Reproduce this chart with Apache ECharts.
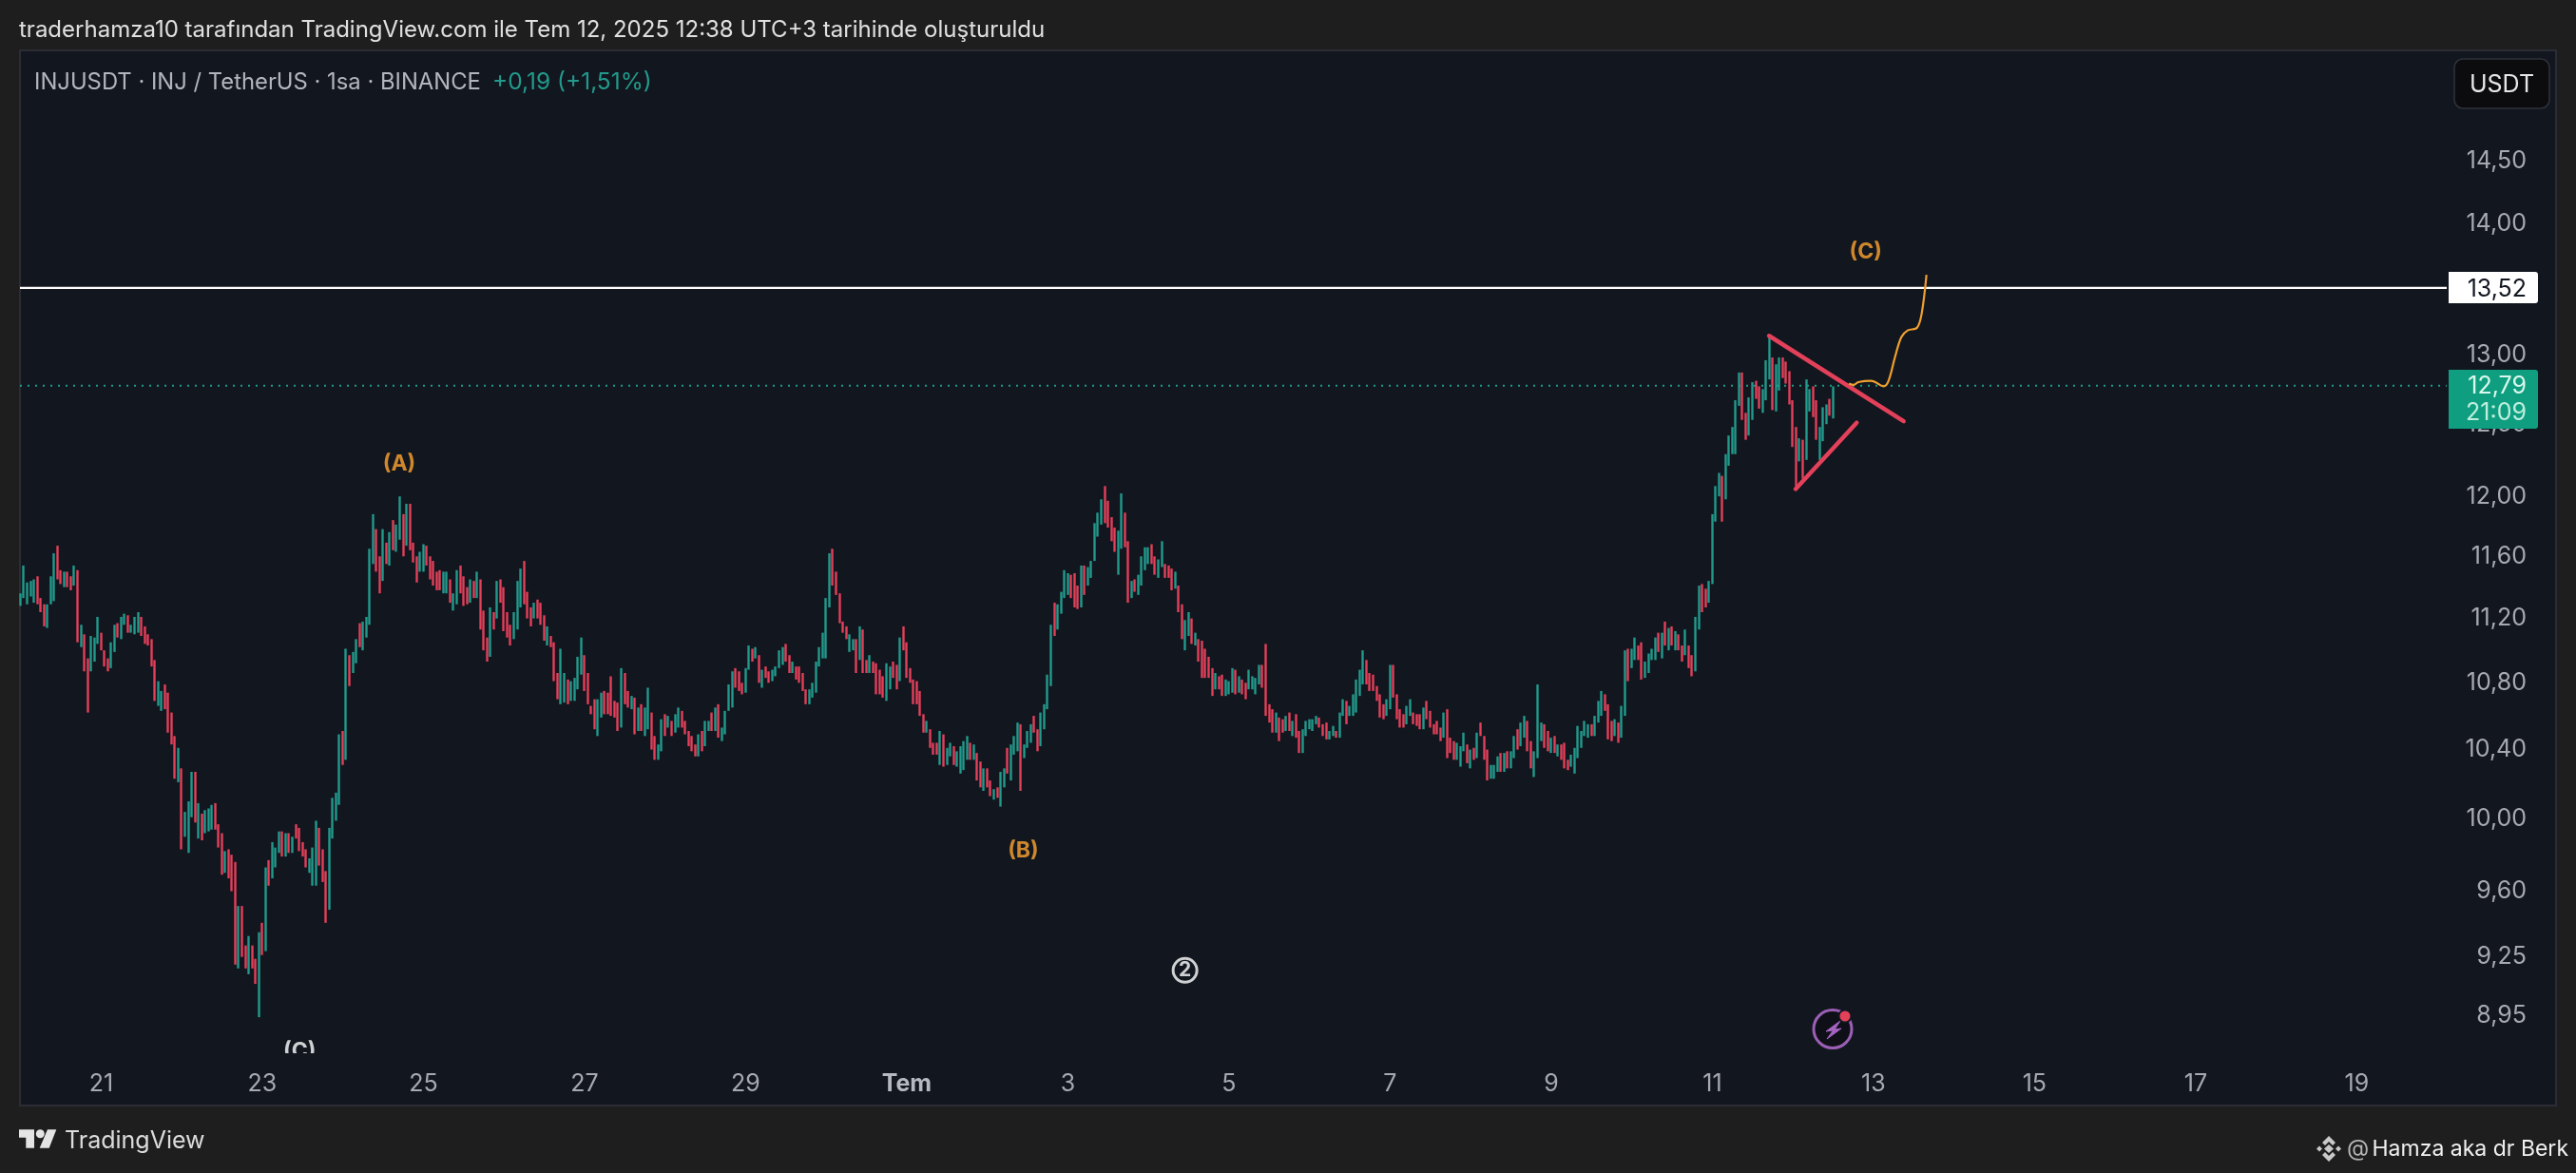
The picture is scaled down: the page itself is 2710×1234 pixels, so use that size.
<!DOCTYPE html>
<html><head><meta charset="utf-8">
<style>html,body{margin:0;padding:0;background:#1e1e1e}#c{width:2710px;height:1234px}</style>
<script src="https://cdn.jsdelivr.net/npm/echarts@6/dist/echarts.min.js"></script>
</head><body><div id="c"></div>
<script>
// hourly bars, starting 20 Jun 00:00: [first price, last price]
const bars = [
[11.28,11.36],[11.33,11.54],[11.29,11.43],[11.34,11.44],[11.30,11.45],[11.47,11.29],[11.33,11.24],[11.29,11.15],[11.14,11.29],[11.29,11.47],
[11.31,11.62],[11.67,11.45],[11.51,11.42],[11.40,11.50],[11.50,11.40],[11.47,11.38],[11.41,11.54],[11.51,11.05],[11.02,11.16],[11.10,10.87],
[10.95,10.62],[10.87,11.09],[10.93,11.08],[11.04,11.21],[11.11,11.00],[11.00,10.90],[10.95,10.87],[10.89,11.05],[10.99,11.16],[11.17,11.08],
[11.07,11.21],[11.16,11.23],[11.22,11.11],[11.11,11.16],[11.10,11.21],[11.11,11.24],[11.21,11.09],[11.15,11.04],[11.10,11.03],[11.07,10.90],
[10.94,10.69],[10.66,10.81],[10.63,10.75],[10.79,10.64],[10.74,10.50],[10.62,10.43],[10.48,10.23],[10.21,10.41],[10.29,9.83],[9.90,10.04],
[9.81,10.10],[10.01,10.27],[10.27,9.98],[9.89,10.09],[10.03,9.88],[9.92,10.05],[9.93,10.06],[9.94,10.08],[10.09,9.94],[9.97,9.84],
[9.92,9.69],[9.70,9.82],[9.83,9.67],[9.80,9.60],[9.76,9.21],[9.19,9.52],[9.52,9.25],[9.31,9.19],[9.16,9.36],[9.31,9.19],
[9.24,9.11],[8.94,9.38],[9.43,9.26],[9.28,9.73],[9.77,9.63],[9.67,9.87],[9.73,9.84],[9.81,9.93],[9.93,9.79],[9.79,9.92],
[9.92,9.81],[9.81,9.90],[9.97,9.89],[9.95,9.82],[9.87,9.79],[9.83,9.73],[9.70,9.78],[9.63,9.84],[9.63,9.99],[9.95,9.74],
[9.83,9.65],[9.71,9.43],[9.50,9.95],[9.89,10.12],[9.99,10.15],[10.08,10.49],[10.51,10.31],[10.34,11.01],[10.97,10.78],[10.86,10.99],
[10.92,11.07],[11.17,11.02],[11.00,11.18],[11.08,11.21],[11.16,11.65],[11.55,11.88],[11.78,11.50],[11.60,11.36],[11.44,11.78],[11.69,11.55],
[11.54,11.76],[11.84,11.64],[11.63,11.81],[11.71,12.00],[11.88,11.60],[11.67,11.95],[11.95,11.64],[11.69,11.56],[11.60,11.43],[11.50,11.63],
[11.50,11.68],[11.67,11.54],[11.60,11.45],[11.57,11.41],[11.50,11.38],[11.51,11.38],[11.36,11.50],[11.36,11.50],[11.45,11.30],[11.25,11.36],
[11.29,11.51],[11.54,11.36],[11.47,11.28],[11.40,11.29],[11.30,11.45],[11.44,11.33],
[11.33,11.50],[11.45,11.13],[11.25,11.00],[11.08,10.93],[10.96,11.27],[11.24,11.13],[11.20,11.44],[11.45,11.30],[11.40,11.12],[11.24,11.08],
[11.16,11.03],[11.07,11.24],[11.13,11.44],[11.27,11.52],[11.57,11.29],[11.37,11.20],[11.27,11.15],[11.20,11.30],[11.32,11.20],[11.30,11.16],
[11.22,11.06],[11.03,11.15],[11.09,11.02],[11.05,10.81],[10.86,10.70],[10.67,11.01],[10.68,10.86],[10.82,10.67],[10.69,10.81],[10.69,10.83],
[10.76,10.96],[10.85,11.08],[10.97,10.75],[10.86,10.67],[10.66,10.61],[10.70,10.52],[10.48,10.70],[10.59,10.74],[10.75,10.61],[10.74,10.61],
[10.84,10.60],[10.69,10.59],[10.68,10.51],[10.53,10.89],[10.86,10.67],[10.75,10.65],[10.64,10.72],[10.71,10.49],[10.51,10.65],[10.67,10.51],
[10.48,10.65],[10.52,10.77],[10.62,10.40],[10.48,10.34],[10.34,10.43],[10.39,10.58],[10.61,10.48],[10.53,10.60],[10.57,10.48],[10.50,10.61],
[10.53,10.65],[10.63,10.53],[10.57,10.49],[10.51,10.42],[10.48,10.39],[10.43,10.36],[10.36,10.49],[10.51,10.39],[10.42,10.57],[10.51,10.57],
[10.62,10.51],[10.51,10.65],[10.67,10.47],[10.45,10.53],[10.49,10.63],[10.63,10.79],[10.65,10.87],[10.89,10.77],[10.87,10.75],[10.80,10.73],
[10.74,10.89],[10.88,11.03],[11.01,10.93],[10.95,11.02],[10.97,10.80],[10.77,10.88],[10.90,10.83],[10.87,10.80],[10.81,10.88],[10.84,10.90],
[10.89,11.00],[10.91,11.02],[11.04,10.93],[10.97,10.86],[10.86,10.93],[10.90,10.82],[10.90,10.80],[10.86,10.75],[10.76,10.67],[10.67,10.76],
[10.71,10.80],[10.74,10.93],[10.90,11.02],[10.95,11.11],[10.95,11.33],[11.27,11.62],[11.65,11.41],[11.50,11.35],[11.36,11.17],[11.18,11.11],
[11.15,11.07],[10.99,11.10],[11.00,11.07],[11.07,10.86],[10.94,11.15],[11.13,10.86],[10.94,10.86],[10.86,10.97],[10.93,10.86],[10.92,10.73],
[10.88,10.73],[10.84,10.71],[10.69,10.92],[10.76,10.90],[10.93,10.83],[10.91,10.76],[10.81,11.08],[11.15,11.00],[11.05,10.83],[10.89,10.80],
[10.82,10.67],[10.81,10.67],[10.75,10.60],[10.61,10.50],[10.50,10.57],[10.52,10.41],[10.44,10.37],[10.44,10.37],[10.31,10.51],[10.49,10.30],
[10.31,10.41],[10.36,10.44],
[10.42,10.31],[10.30,10.39],[10.26,10.42],[10.28,10.45],[10.34,10.48],[10.44,10.34],[10.34,10.43],[10.38,10.22],[10.33,10.18],[10.16,10.29],
[10.29,10.18],[10.22,10.13],[10.11,10.17],[10.18,10.12],[10.07,10.27],[10.18,10.29],[10.41,10.26],[10.22,10.43],[10.37,10.48],[10.39,10.56],
[10.55,10.16],[10.35,10.43],[10.41,10.51],[10.44,10.55],[10.60,10.50],[10.52,10.39],[10.42,10.62],[10.52,10.67],[10.64,10.85],[10.78,11.16],
[11.30,11.09],[11.13,11.29],[11.23,11.37],[11.33,11.51],[11.35,11.49],[11.48,11.33],[11.49,11.27],[11.41,11.26],[11.27,11.54],[11.54,11.35],
[11.41,11.53],[11.46,11.57],[11.57,11.82],[11.73,11.89],[11.81,11.98],[12.07,11.82],[11.97,11.79],[11.86,11.70],[11.79,11.63],[11.48,11.77],
[11.65,12.02],[11.89,11.66],[11.70,11.30],[11.33,11.44],[11.45,11.37],[11.35,11.48],[11.41,11.60],[11.51,11.66],[11.55,11.66],[11.68,11.55],
[11.60,11.48],[11.46,11.58],[11.53,11.70],[11.55,11.46],[11.54,11.46],[11.52,11.38],[11.39,11.50],[11.41,11.24],[11.29,11.07],[11.00,11.19],
[11.09,11.24],[11.20,11.04],[11.03,11.11],[11.07,10.93],[11.06,10.83],[11.01,10.83],[10.96,10.83],[10.89,10.72],[10.76,10.86],[10.84,10.76],
[10.85,10.72],[10.72,10.82],[10.73,10.81],[10.74,10.89],[10.88,10.73],[10.74,10.84],[10.82,10.73],[10.80,10.70],[10.76,10.88],[10.76,10.84],
[10.73,10.83],[10.79,10.91],[10.91,10.77],[11.04,10.60],[10.67,10.56],[10.64,10.50],[10.50,10.62],[10.59,10.45],[10.58,10.50],[10.51,10.60],
[10.62,10.51],[10.48,10.57],[10.61,10.47],[10.51,10.38],[10.38,10.52],[10.48,10.57],[10.52,10.58],[10.51,10.58],[10.55,10.60],[10.59,10.53],
[10.55,10.48],[10.56,10.46],[10.46,10.51],[10.48,10.54],[10.51,10.47],[10.47,10.62],[10.60,10.70],[10.69,10.55],[10.60,10.66],[10.60,10.73],
[10.62,10.82],[10.72,10.88],[10.79,11.00],[10.94,10.79],[10.86,10.75],[10.85,10.75],[10.78,10.69],[10.73,10.59],[10.67,10.58],[10.60,10.70],
[10.64,10.91],[10.91,10.71],[10.73,10.58],[10.64,10.53],[10.61,10.53],[10.55,10.66],[10.60,10.70],[10.62,10.55],[10.61,10.54],[10.61,10.52],
[10.52,10.65],
[10.69,10.58],[10.63,10.53],[10.55,10.49],[10.57,10.49],[10.53,10.45],[10.47,10.62],[10.64,10.35],[10.47,10.38],[10.45,10.34],[10.34,10.44],
[10.30,10.42],[10.39,10.50],[10.43,10.32],[10.29,10.40],[10.41,10.34],[10.35,10.50],[10.56,10.48],[10.48,10.34],[10.40,10.22],[10.23,10.31],
[10.23,10.31],[10.27,10.36],[10.38,10.27],[10.27,10.38],[10.39,10.29],[10.29,10.39],[10.35,10.48],[10.52,10.40],[10.42,10.56],[10.47,10.60],
[10.57,10.39],[10.45,10.29],[10.24,10.39],[10.35,10.79],[10.45,10.56],[10.55,10.41],[10.51,10.39],[10.38,10.47],[10.48,10.38],[10.36,10.43],
[10.43,10.34],[10.44,10.29],[10.34,10.28],[10.30,10.37],[10.26,10.41],[10.35,10.54],[10.41,10.51],[10.48,10.57],[10.47,10.55],[10.55,10.48],
[10.48,10.60],[10.56,10.69],[10.60,10.75],[10.73,10.63],[10.67,10.46],[10.57,10.45],[10.48,10.58],[10.56,10.44],[10.47,10.66],[10.60,11.00],
[11.01,10.81],[10.89,11.01],[10.94,11.08],[11.03,10.94],[11.05,10.82],[10.83,10.93],[10.86,10.98],[10.94,11.01],[10.94,11.08],[11.11,10.99],
[10.95,11.11],[11.18,11.03],[11.00,11.14],[11.15,11.03],[11.00,11.12],[11.10,11.00],[11.03,10.93],[10.97,11.13],[11.03,10.89],[10.97,10.84],
[10.87,11.21],
[11.13,11.41],[11.42,11.24],[11.39,11.27],[11.30,11.44],[11.42,11.88],[11.83,12.07],[12.00,12.16],[12.14,11.83],[11.98,12.29],[12.21,12.42],
[12.29,12.48],[12.29,12.67],[12.63,12.87],[12.87,12.53],[12.58,12.39],[12.42,12.69],[12.53,12.80],[12.81,12.68],[12.77,12.61],[12.58,12.75],
[12.67,12.96],[12.82,13.14],[12.98,12.60],[12.59,12.93],[12.74,12.98],[12.98,12.83],[12.95,12.79],[12.88,12.64],[12.67,12.34],[12.48,12.07],
[12.24,12.40],[12.39,12.12],[12.25,12.82],[12.59,12.75],[12.77,12.55],[12.67,12.39],[12.25,12.48],[12.38,12.62],[12.50,12.64],[12.68,12.56],
[12.54,12.77]
];
const priceTicks = [14.5,14,13,12.5,12,11.6,11.2,10.8,10.4,10,9.6,9.25,8.95];
const priceTickLabels = ['14,50','14,00','13,00','12,50','12,00','11,60','11,20','10,80','10,40','10,00','9,60','9,25','8,95'];
const dayTicks = [24,72,120,168,216,264,312,360,408,456,504,552,600,648,696];
const dayTickLabels = ['21','23','25','27','29','Tem','3','5','7','9','11','13','15','17','19'];
const levelLine = 13.5, levelLabel = '13,52';
const lastPrice = 12.775, lastLabel = '12,79', countdown = '21:09';
const waveLabels = [['(A)',112.8,12.22],['(B)',298.7,9.82],['(C)',549.7,13.78]];
const waveLabelLow = [['(C)',83.1,8.77]];
const circledMark = [['2',346.9,9.18]];
const wedgeUpper = [[520.9,13.14],[561,12.52]];
const wedgeLower = [[528.8,12.05],[547,12.51]];
const projection = [[544.7,12.79],[546.1,12.78],[547.5,12.80],[551.3,12.81],[555.1,12.77],[556.5,12.81],[558.4,12.98],[560.3,13.13],[562.2,13.18],[565,13.20],[566.4,13.31],[567.8,13.60]];

const xMin=-0.2, xMax=722.8, yMin=8.76, yMax=15.44;
const UP='#229a8b', DOWN='#e3405a', FONT='Inter, "Noto Sans", sans-serif';
const candle = bars.map((b,i)=>[i,b[0],b[1],Math.min(b[0],b[1]),Math.max(b[0],b[1])]);
const fullLine = v=>[[xMin,v],[xMax,v]];
const hidden={color:'rgba(0,0,0,0)'};
const txt=(x,y,text,size,fill,extra)=>({type:'text',z:20,x,y,style:Object.assign({text,fontSize:size,fontFamily:FONT,fill,textAlign:'left',textVerticalAlign:'middle'},extra||{})});
const chart = echarts.init(document.getElementById('c'),null,{renderer:'canvas'});
chart.setOption({
  animation:false, backgroundColor:'#1e1e1e',
  grid:{left:21,top:53,width:2553,height:1055,containLabel:false},
  xAxis:{type:'value',min:xMin,max:xMax,z:10,splitLine:{show:false},axisLine:{show:false},axisTick:{show:false},
    axisLabel:{customValues:dayTicks,margin:20,fontFamily:FONT,fontSize:25,color:'#a6a9b1',
      formatter:v=>{const l=dayTickLabels[dayTicks.indexOf(v)];return l==='Tem'?'{b|Tem}':l;},
      rich:{b:{fontWeight:'bold',fontSize:25,color:'#b6b9c1',fontFamily:FONT}}}},
  yAxis:{type:'log',min:yMin,max:yMax,position:'right',z:10,splitLine:{show:false},axisLine:{show:false},axisTick:{show:false},
    axisLabel:{customValues:priceTicks,margin:84,align:'right',padding:[10,0,0,0],fontFamily:FONT,fontSize:25,color:'#a6a9b1',
      formatter:v=>{let k=0,d=9;priceTicks.forEach((t,i)=>{if(Math.abs(t-v)<d){d=Math.abs(t-v);k=i;}});return priceTickLabels[k];}}},
  series:[
    {type:'line',data:fullLine(levelLine),symbol:'none',silent:true,z:3,lineStyle:{color:'#ffffff',width:2.2}},
    {type:'line',data:fullLine(lastPrice),symbol:'none',silent:true,z:1,lineStyle:{color:'#1f9c86',width:2,type:[2,6]}},
    {type:'candlestick',data:candle,encode:{x:0,y:[1,2,3,4]},barWidth:1,z:2,
      itemStyle:{color:UP,color0:DOWN,borderColor:UP,borderColor0:DOWN,borderWidth:2.4}},
    {type:'line',data:wedgeUpper,symbol:'none',z:4,lineStyle:{color:'#e3405a',width:4.5,cap:'round'}},
    {type:'line',data:wedgeLower,symbol:'none',z:4,lineStyle:{color:'#e3405a',width:4.5,cap:'round'}},
    {type:'line',data:projection,symbol:'none',smooth:0.35,z:5,lineStyle:{color:'#ef9f2e',width:2.2}},
    {type:'scatter',data:waveLabels.map(d=>({value:[d[1],d[2]],name:d[0]})),symbolSize:1,itemStyle:hidden,z:4,
      label:{show:true,position:'inside',formatter:p=>p.name,color:'#ffa52e',fontFamily:FONT,fontWeight:'bold',fontSize:23}},
    {type:'scatter',data:waveLabelLow.map(d=>({value:[d[1],d[2]],name:d[0]})),symbolSize:1,itemStyle:hidden,z:4,
      label:{show:true,position:'inside',formatter:p=>p.name,color:'#ffffff',fontFamily:FONT,fontWeight:'bold',fontSize:23}},
    {type:'scatter',data:circledMark.map(d=>({value:[d[1],d[2]],name:d[0]})),symbolSize:25,
      itemStyle:{color:'rgba(0,0,0,0)',borderColor:'#ffffff',borderWidth:3},z:4,
      label:{show:true,position:'inside',formatter:p=>p.name,color:'#ffffff',fontFamily:FONT,fontWeight:'bold',fontSize:21}}
  ],
  graphic:{elements:[
    {type:'rect',z:-1,shape:{x:21,y:53,width:2668,height:1110},style:{fill:'#12161f',stroke:'#2a2d35',lineWidth:2}},
    {type:'rect',z:5,shape:{x:22,y:1108,width:2666,height:54},style:{fill:'#12161f'}},
    txt(20,32,'traderhamza10 tarafından TradingView.com ile Tem 12, 2025 12:38 UTC+3 tarihinde oluşturuldu',24,'#e0e0e0'),
    txt(36,87,'INJUSDT · INJ / TetherUS · 1sa · BINANCE',23.8,'#b2b5be'),
    txt(518,87,'+0,19 (+1,51%)',24.5,'#229a8b'),
    {type:'rect',z:20,shape:{x:2582,y:62,width:100,height:52,r:9},style:{fill:'#0c0c0f',stroke:'#2f323a',lineWidth:1.5}},
    txt(2632,89.5,'USDT',25,'#e6e6e6',{textAlign:'center'}),
    {type:'rect',z:20,shape:{x:2576,y:286,width:94,height:33,r:[0,3,3,0]},style:{fill:'#ffffff'}},
    txt(2658,304,levelLabel,25,'#131722',{textAlign:'right'}),
    {type:'rect',z:20,shape:{x:2576,y:389,width:94,height:62,r:[0,3,3,0]},style:{fill:'#0f9f80'}},
    txt(2658,406,lastLabel,25,'#d9f7ec',{textAlign:'right'}),
    txt(2658,434.5,countdown,25,'#bdeedd',{textAlign:'right'}),
    {type:'circle',z:20,shape:{cx:1928,cy:1082.5,r:20},style:{fill:'#0f1017',stroke:'#9b5fb5',lineWidth:3}},
    {type:'polygon',z:21,shape:{points:[[1936,1074],[1921,1085],[1928.5,1084],[1922,1093],[1937,1082],[1930,1083]]},style:{fill:'#a564c2',stroke:'#a564c2',lineWidth:1}},
    {type:'circle',z:21,shape:{cx:1941,cy:1069,r:6.5},style:{fill:'#e3405a',stroke:'#12161f',lineWidth:2}},
    {type:'polygon',z:20,shape:{points:[[20,1188.3],[36,1188.3],[36,1207.7],[27.3,1207.7],[27.3,1196.7],[20,1196.7]]},style:{fill:'#e4e4e4'}},
    {type:'circle',z:20,shape:{cx:42.3,cy:1192.7,r:4.5},style:{fill:'#e4e4e4'}},
    {type:'polygon',z:20,shape:{points:[[50,1188.3],[59.3,1188.3],[51.7,1207.7],[41.7,1207.7]]},style:{fill:'#e4e4e4'}},
    txt(68,1200.5,'TradingView',25,'#dcdcdc'),
    {type:'polygon',z:20,shape:{points:[[2450,1195],[2457,1202],[2454,1205],[2450,1201],[2446,1205],[2443,1202]]},style:{fill:'#c9c9c9'}},
    {type:'polygon',z:20,shape:{points:[[2450,1222],[2457,1215],[2454,1212],[2450,1216],[2446,1212],[2443,1215]]},style:{fill:'#c9c9c9'}},
    {type:'polygon',z:20,shape:{points:[[2450,1204],[2455,1208.5],[2450,1213],[2445,1208.5]]},style:{fill:'#c9c9c9'}},
    {type:'polygon',z:20,shape:{points:[[2440,1205.5],[2443,1208.5],[2440,1211.5],[2437,1208.5]]},style:{fill:'#c9c9c9'}},
    {type:'polygon',z:20,shape:{points:[[2460,1205.5],[2463,1208.5],[2460,1211.5],[2457,1208.5]]},style:{fill:'#c9c9c9'}},
    txt(2469,1209,'@',24,'#b4b4b4'),
    txt(2702,1209,'Hamza aka dr Berk',23,'#f0f0f0',{textAlign:'right'})
  ]}
});
</script></body></html>
